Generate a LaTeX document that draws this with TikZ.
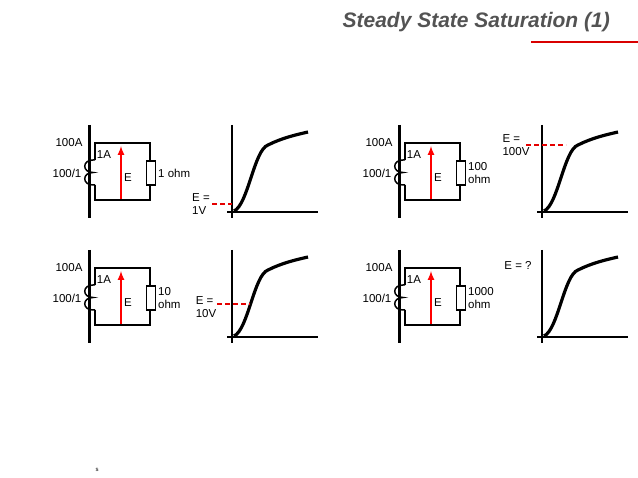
\documentclass[tikz,border=0pt]{standalone}
\usepackage{fontspec}
\setmainfont{Liberation Sans}
\begin{document}
\begin{tikzpicture}[x=1pt,y=-1pt,
  lbl/.style={font=\fontsize{11.5}{12.5}\selectfont,inner sep=0pt,align=left},
  wire/.style={line width=1.5pt},
  bar/.style={line width=3pt},
  ax/.style={line width=2.2pt},
  crv/.style={line width=3.2pt},
  rdash/.style={red!90!black,line width=2pt,dash pattern=on 5pt off 3pt}]
\useasboundingbox (0,0) rectangle (638,478);
\node[font=\fontsize{21}{24}\selectfont\bfseries\itshape,text=black!50!gray!90,anchor=east,inner sep=0pt] (title) at (610,22) {Steady State Saturation (1)};
\coordinate (l1) at (531,42); \coordinate (l2) at (638,42);
\draw[red!85!black,line width=1.6pt] (l1) -- (l2);
\node[font=\fontsize{6}{7}\selectfont,inner sep=0pt] (s) at (97,470) {s};
\foreach \dx/\dy/\r/\n in {0/0/{1 ohm}/a,310/0/{100\\ohm}/b,0/125/{10\\ohm}/c,310/125/{1000\\ohm}/d}{
\begin{scope}[shift={(\dx,\dy)}]
 \coordinate (bt\n) at (89,125); \coordinate (bb\n) at (89,218);
 \draw[bar] (bt\n) -- (bb\n);
 \coordinate (tl\n) at (95,143); \coordinate (tr\n) at (150,143);
 \coordinate (br\n) at (150,200); \coordinate (bl\n) at (95,200);
 \draw[wire] (95,160) -- (tl\n) -- (tr\n) -- (150,161);
 \draw[wire] (150,185) -- (br\n) -- (bl\n) -- (95,185);
 \draw[wire] (95,160) -- (93,160) .. controls (82,160) and (82,172.5) .. (93,172.5) .. controls (82,172.5) and (82,185) .. (93,185) -- (95,185);
 \node[draw,wire,minimum width=9pt,minimum height=24pt,inner sep=0pt] (r\n) at (151,173) {};
 \coordinate (as\n) at (121,199); \coordinate (ae\n) at (121,146);
 \draw[red,line width=2pt,-{latex}] (as\n) -- (ae\n);
 \node[lbl] (A\n) at (69,143) {100A};
 \node[lbl] (a\n) at (104,155) {1A};
 \node[lbl] (t\n) at (67,173) {100/1};
 \node[lbl] (E\n) at (128,178) {E};
 \node[lbl,anchor=west] (R\n) at (158,173) {\r};
 \coordinate (yt\n) at (232,125); \coordinate (yb\n) at (232,218);
 \coordinate (xl\n) at (227,212); \coordinate (xr\n) at (318,212);
 \draw[ax] (yt\n) -- (yb\n); \draw[ax] (xl\n) -- (xr\n);
 \draw[crv] (234,211) .. controls (248,205) and (254,150) .. (268,145) .. controls (282,138) and (295,135) .. (308,132);
\end{scope}}
\coordinate (d1) at (212,204); \coordinate (d2) at (232,204);
\draw[rdash] (d1) -- (d2);
\node[lbl] (e1) at (201,204) {E =\\1V};
\coordinate (d3) at (526,145); \coordinate (d4) at (566,145);
\draw[rdash] (d3) -- (d4);
\node[lbl] (e2) at (516,145) {E =\\100V};
\coordinate (d5) at (217,304); \coordinate (d6) at (250,304);
\draw[rdash] (d5) -- (d6);
\node[lbl] (e3) at (206,307) {E =\\10V};
\node[lbl] (e4) at (518,265) {E = ?};
\end{tikzpicture}
\end{document}
